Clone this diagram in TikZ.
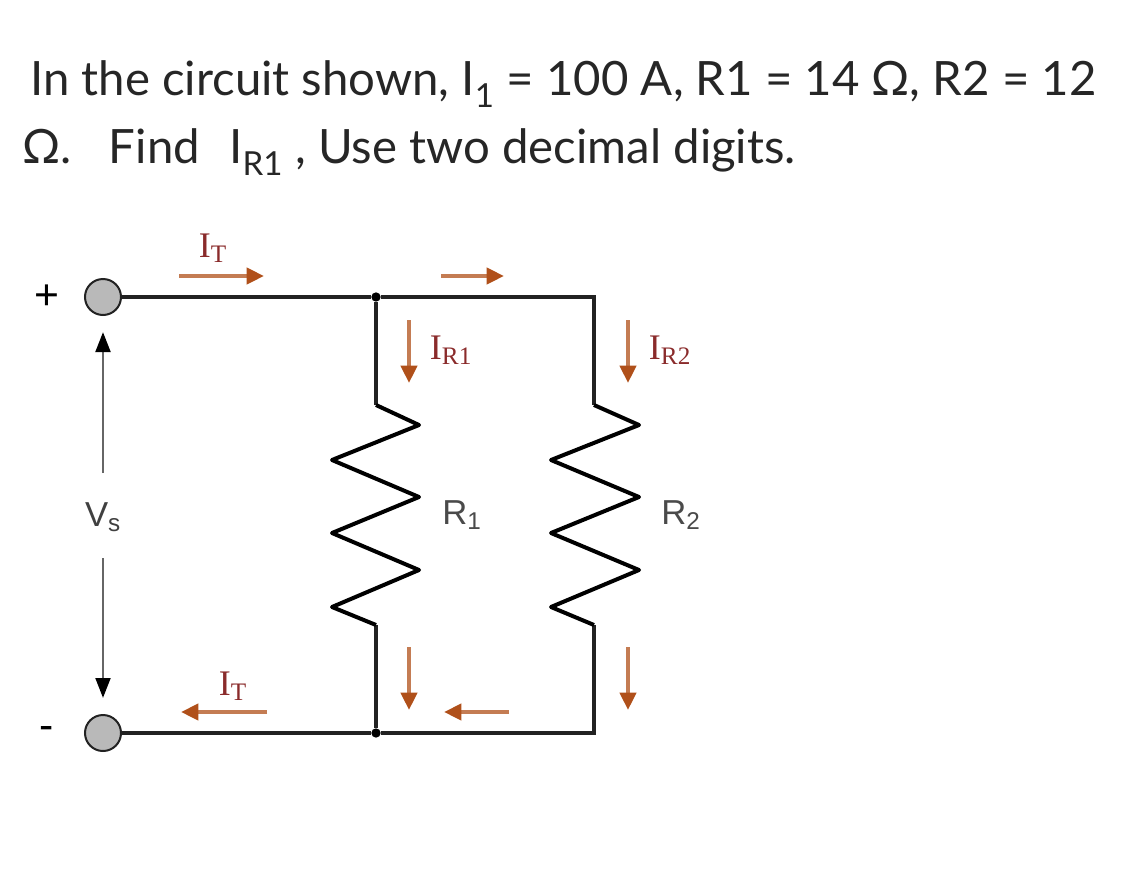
\documentclass[tikz,border=0pt]{standalone}
\usepackage{fontspec}
\setmainfont{Lato}
\newfontfamily\arial{Liberation Sans}
\newfontfamily\serifx{Liberation Serif}
\usetikzlibrary{arrows.meta}
\definecolor{wire}{HTML}{222222}
\definecolor{curarrow}{HTML}{B0501A}
\definecolor{curlbl}{HTML}{8A2B2B}
\definecolor{lblgray}{HTML}{4A4A4A}
\tikzset{
  wire/.style={draw=wire,line width=2.6pt},
  reswire/.style={draw=black,line width=3pt,line join=round},
  cur/.style={draw=curarrow!75,line width=3pt,-{Triangle[length=13pt,width=12pt,fill=curarrow,color=curarrow]}},
  vsarr/.style={draw=gray!80!black,line width=2.2pt,-{Triangle[length=15pt,width=11pt,fill=black,color=black]}},
  curtxt/.style={text=curlbl,font=\serifx\fontsize{27}{30}\selectfont,inner sep=0pt},
  rtxt/.style={text=lblgray,font=\arial\fontsize{26}{30}\selectfont,inner sep=0pt},
  term/.style={circle,draw=wire,line width=1.5pt,fill=gray!55,minimum size=27pt,inner sep=0pt},
  dotn/.style={circle,fill=black,minimum size=7pt,inner sep=0pt},
  qtxt/.style={anchor=base west,inner sep=0pt,font=\fontsize{35.5}{40}\selectfont,text=black!85}
}
\begin{document}
\begin{tikzpicture}[x=0.75pt,y=-0.75pt]
\useasboundingbox (0,0) rectangle (1148,878);
\node[qtxt] (l1) at (30,95) {In the circuit shown, I\textsubscript{1} = 100 A, R1 = 14 Ω, R2 = 12};
\node[qtxt] (l2) at (22,163) {Ω.\hspace{28pt}Find\hspace{22pt}I\textsubscript{R1} , Use two decimal digits.};
% nodes
\node[term] (tp) at (103,297) {};
\node[term] (tm) at (103,733) {};
\node[dotn] (jt) at (376,297) {};
\node[dotn] (jb) at (376,733) {};
\coordinate (rt) at (594,297);
\coordinate (rb) at (594,733);
\coordinate (r1a) at (376,405); \coordinate (r1b) at (376,625);
\coordinate (r2a) at (594,405); \coordinate (r2b) at (594,625);
\node[font=\arial\fontsize{32}{32}\selectfont] (plus) at (47,297) {+};
\node[font=\arial\fontsize{32}{32}\selectfont] (minus) at (47,733) {-};
% wires
\draw[wire] (tp) -- (jt) -- (rt) -- (r2a);
\draw[wire] (tm) -- (jb) -- (rb) -- (r2b);
\draw[wire] (jt) -- (r1a);
\draw[wire] (jb) -- (r1b);
\draw[reswire] (r1a) -- (419,425) -- (332,460) -- (419,497) -- (332,533) -- (419,570) -- (332,607) -- (r1b);
\draw[reswire] (r2a) -- (639,425) -- (551,460) -- (639,497) -- (551,533) -- (639,570) -- (551,607) -- (r2b);
% Vs
\coordinate (va) at (103,473); \coordinate (vb) at (103,558);
\draw[vsarr] (va) -- (tp.south |- 0,332);
\draw[vsarr] (vb) -- (tm.north |- 0,698);
\node[rtxt,text=black!75] (vs) at (103,517) {V\textsubscript{s}};
% current arrows
\draw[cur] (179,276) -- (264,276);
\node[curtxt] (it1) at (213,248) {I\textsubscript{T}};
\draw[cur] (441,276) -- (504,276);
\draw[cur] (409,320) -- (409,383);
\node[curtxt] (ir1) at (451,350) {I\textsubscript{R1}};
\draw[cur] (628,320) -- (628,383);
\node[curtxt] (ir2) at (670,350) {I\textsubscript{R2}};
\draw[cur] (409,647) -- (409,710);
\draw[cur] (628,647) -- (628,710);
\draw[cur] (267,712) -- (181,712);
\node[curtxt] (it2) at (233,686) {I\textsubscript{T}};
\draw[cur] (509,712) -- (444,712);
\node[rtxt] (rl1) at (462,515) {R\textsubscript{1}};
\node[rtxt] (rl2) at (681,515) {R\textsubscript{2}};
\end{tikzpicture}
\end{document}
